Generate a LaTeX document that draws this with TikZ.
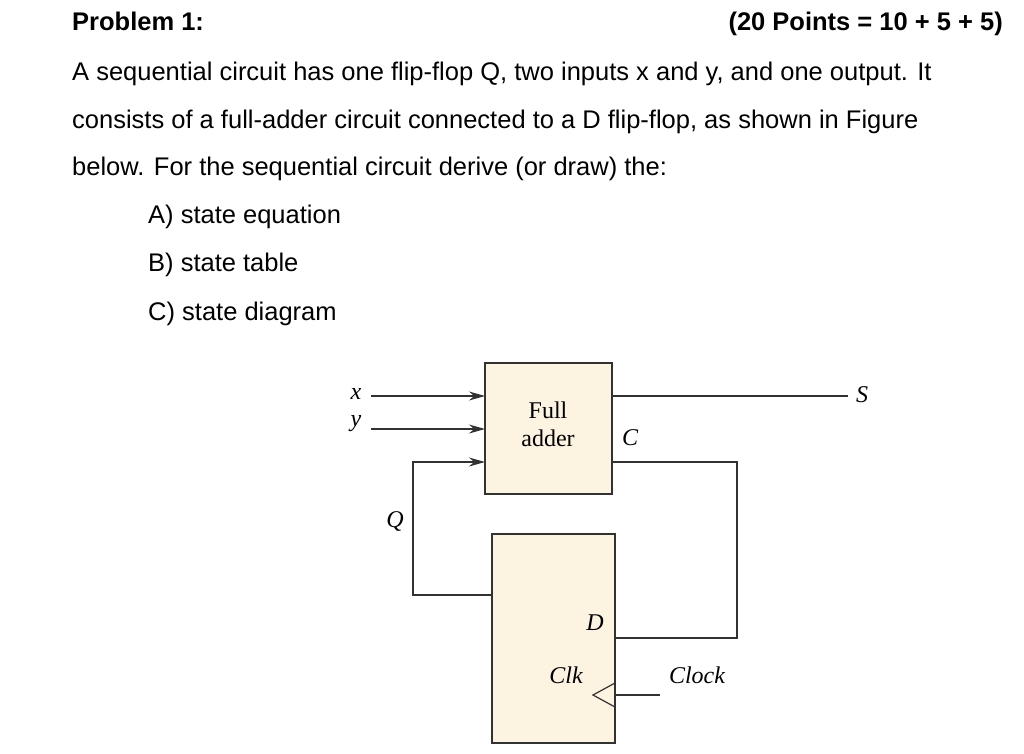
\documentclass[tikz,border=0pt]{standalone}
\usepackage{fontspec}
\setmainfont{Liberation Sans}
\newfontfamily\serifF{Liberation Serif}
\usetikzlibrary{arrows.meta}
\definecolor{cream}{RGB}{253,243,225}
\definecolor{wire}{RGB}{50,50,50}
\begin{document}
\begin{tikzpicture}[x=1pt,y=-1pt,
  txt/.style={anchor=base west,inner sep=0,font=\fontsize{25.5}{28}\selectfont},
  lbl/.style={inner sep=0,font=\serifF\fontsize{24}{28}\selectfont},
  ilbl/.style={lbl,font=\serifF\itshape\fontsize{24}{28}\selectfont},
  box/.style={draw=wire,line width=1.8pt,fill=cream},
  w/.style={draw=wire,line width=1.2pt},
  arr/.style={w,-{Stealth[length=16pt,width=9pt]}}]
\useasboundingbox (0,0) rectangle (1024,753);
\node[txt,font=\bfseries\fontsize{25.5}{28}\selectfont] (t0) at (72,30) {Problem 1:};
\node[txt,anchor=base east,font=\bfseries\fontsize{25.5}{28}\selectfont] (t1) at (1003,30) {(20 Points = 10 + 5 + 5)};
\node[txt] (l1) at (72,80) {A sequential circuit has one flip-flop Q, two inputs x and y, and one output. It};
\node[txt] (l2) at (72,128) {consists of a full-adder circuit connected to a D flip-flop, as shown in Figure};
\node[txt] (l3) at (72,175) {below. For the sequential circuit derive (or draw) the:};
\node[txt] (la) at (148,223) {A) state equation};
\node[txt] (lb) at (148,271) {B) state table};
\node[txt] (lc) at (148,320) {C) state diagram};
% boxes
\draw[box] (485,363) rectangle (612,494);
\node[lbl,align=center] (fa) at (548,424) {Full\\adder};
\draw[box] (492,534) rectangle (615,743);
% inputs
\coordinate (xs) at (371,396); \coordinate (ys) at (371,429);
\node[ilbl] (xl) at (356,394) {x};
\node[ilbl] (yl) at (356,424) {y};
\draw[arr] (xs) -- (485,396);
\draw[arr] (ys) -- (485,429);
\draw[arr] (492,595) -- (413,595) -- (413,462) -- (485,462);
\node[ilbl] (ql) at (395,521) {Q};
% outputs
\draw[w] (612,396) -- (848,396);
\node[ilbl] (sl) at (862,395) {S};
\node[ilbl] (cl) at (630,438) {C};
\draw[w] (612,462) -- (737,462) -- (737,638) -- (615,638);
\node[ilbl] (dl) at (595,623) {D};
% clock
\draw[w] (615,683) -- (593,695) -- (615,707);
\draw[w] (615,695) -- (660,695);
\node[ilbl] (clk) at (566,675) {Clk};
\node[ilbl] (clock) at (697,675) {Clock};
\end{tikzpicture}
\end{document}
